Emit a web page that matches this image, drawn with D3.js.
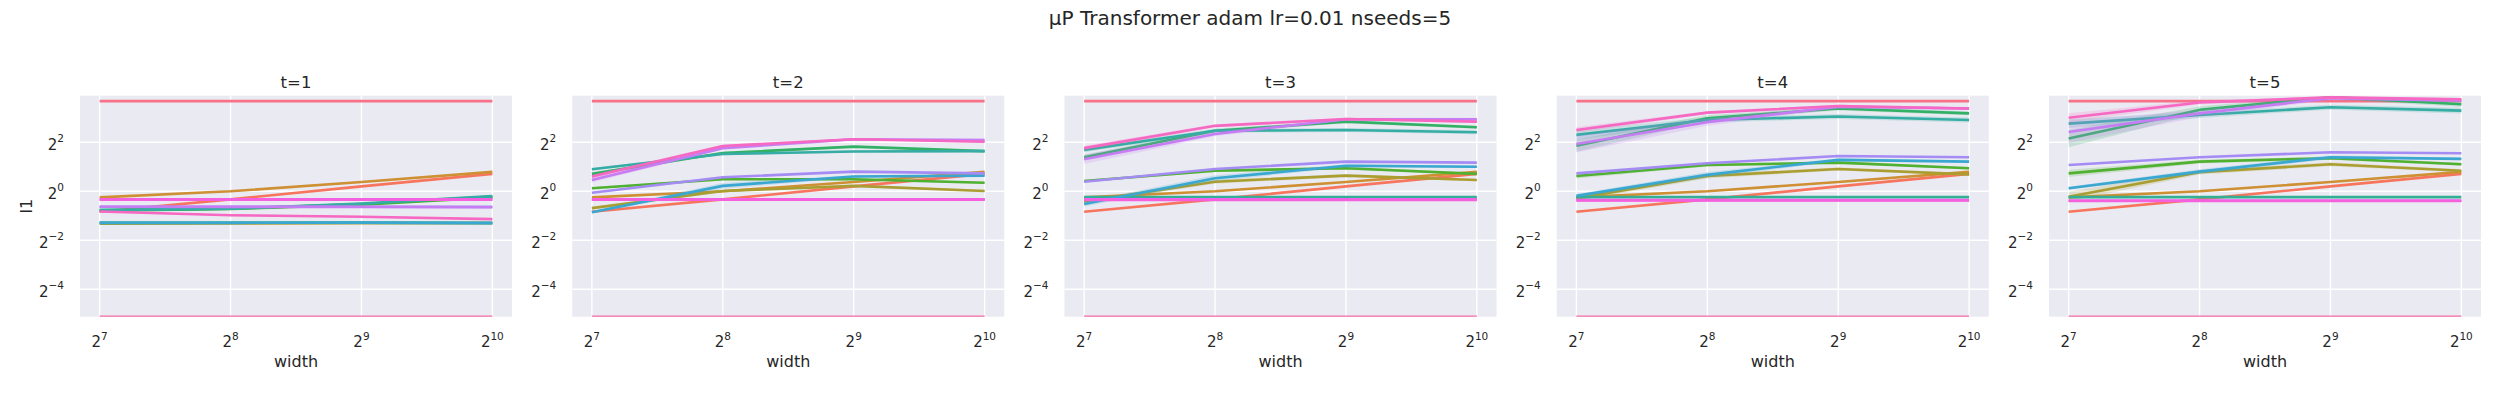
<!DOCTYPE html>
<html><head><meta charset="utf-8">
<script src="https://cdn.jsdelivr.net/npm/d3@7"></script>
<style>
body{margin:0;background:#fff}
text{font-family:"DejaVu Sans",sans-serif;fill:#262626}
</style>
</head><body>
<svg id="c" width="2500" height="400"></svg>
<script>
// ---------------- data ----------------
const suptitle = "μP Transformer adam lr=0.01 nseeds=5";
const panelTitles = ["t=1", "t=2", "t=3", "t=4", "t=5"];
const widths = [128, 256, 512, 1024];
const xTickValues = [128, 256, 512, 1024];
const yTickValues = [1/16, 1/4, 1, 4];
const xLabel = "width";
const yLabel = "l1";
const nPalette = 24;

// each series: 5 panels (t=1..5) x 4 widths, l1 values
const topModule = [
  [12.8, 12.8, 12.8, 12.8], [12.8, 12.8, 12.8, 12.8], [12.8, 12.8, 12.8, 12.8],
  [12.8, 12.8, 12.8, 12.8], [12.8, 12.8, 12.8, 12.8]];
const risingRed = [
  [0.559, 0.795, 1.149, 1.636], [0.559, 0.795, 1.149, 1.636], [0.559, 0.795, 1.149, 1.636],
  [0.559, 0.795, 1.149, 1.636], [0.559, 0.795, 1.149, 1.636]];
const orangeModule = [
  [0.841, 1.0, 1.301, 1.729], [0.841, 1.0, 1.301, 1.729], [0.841, 1.0, 1.301, 1.729],
  [0.841, 1.0, 1.301, 1.729], [0.841, 1.0, 1.301, 1.729]];
const oliveModule = [
  [0.398, 0.401, 0.406, 0.406], [0.620, 1.007, 1.165, 1.007], [0.747, 1.310, 1.558, 1.376],
  [0.818, 1.537, 1.879, 1.613], [0.858, 1.717, 2.144, 1.790]];
const midGreen = [
  [0.578, 0.607, 0.683, 0.841], [1.087, 1.404, 1.404, 1.274], [1.338, 1.790, 1.919, 1.636],
  [1.537, 2.099, 2.250, 1.919], [1.659, 2.313, 2.549, 2.144]];
const upperGreen = [
  [0.586, 0.611, 0.697, 0.858], [1.636, 2.948, 3.531, 3.116], [2.621, 5.541, 7.160, 6.105],
  [3.630, 7.890, 10.41, 9.063], [4.438, 9.987, 14.32, 11.71]];
const flatTeal = [
  [0.412, 0.412, 0.412, 0.409], [0.795, 0.795, 0.795, 0.795], [0.847, 0.847, 0.847, 0.847],
  [0.847, 0.847, 0.847, 0.847], [0.847, 0.847, 0.847, 0.847]];
const upperTeal = [
  [0.586, 0.611, 0.707, 0.871], [1.866, 2.868, 3.073, 3.116], [3.227, 5.541, 5.657, 5.315],
  [4.925, 7.516, 8.282, 7.516], [6.774, 8.634, 10.78, 9.781]];
const blueModule = [
  [0.409, 0.409, 0.412, 0.406], [0.551, 1.165, 1.516, 1.558], [0.697, 1.444, 2.056, 2.0],
  [0.877, 1.591, 2.428, 2.313], [1.087, 1.741, 2.621, 2.497]];
const midPurple = [
  [0.646, 0.646, 0.646, 0.642], [0.959, 1.484, 1.741, 1.659], [1.310, 1.879, 2.313, 2.250],
  [1.659, 2.204, 2.713, 2.621], [2.099, 2.621, 3.010, 2.928]];
const upperPurple = [
  [0.646, 0.642, 0.642, 0.637], [1.376, 3.387, 4.347, 4.257], [2.479, 5.063, 7.674, 7.674],
  [3.811, 7.061, 10.93, 10.41], [5.352, 9.063, 13.93, 13.0]];
const flatMagenta = [
  [0.795, 0.795, 0.795, 0.795], [0.795, 0.795, 0.795, 0.795], [0.795, 0.795, 0.795, 0.795],
  [0.779, 0.779, 0.779, 0.779], [0.768, 0.768, 0.768, 0.768]];
const flatMagenta2 = [
  [0.79, 0.79, 0.79, 0.79], [0.79, 0.79, 0.79, 0.79], [0.78, 0.78, 0.78, 0.78],
  [0.77, 0.77, 0.77, 0.77], [0.76, 0.76, 0.76, 0.76]];
const upperPink = [
  [0.563, 0.507, 0.486, 0.454], [1.516, 3.605, 4.347, 4.056], [3.387, 6.364, 7.727, 7.160],
  [5.657, 9.254, 11.16, 10.41], [8.0, 12.29, 14.22, 13.45]];
const bottomModule = [
  [0, 0, 0, 0], [0, 0, 0, 0], [0, 0, 0, 0], [0, 0, 0, 0], [0, 0, 0, 0]];

// confidence band half-widths (in log2 units)
const upperGreenBand = [
  [0.03, 0.03, 0.03, 0.03], [0.06, 0.05, 0.05, 0.04], [0.10, 0.08, 0.06, 0.06],
  [0.25, 0.12, 0.08, 0.08], [0.35, 0.15, 0.10, 0.10]];
const upperTealBand = [
  [0.03, 0.03, 0.03, 0.03], [0.05, 0.05, 0.04, 0.04], [0.10, 0.08, 0.08, 0.08],
  [0.20, 0.10, 0.10, 0.10], [0.18, 0.12, 0.10, 0.12]];
const upperPurpleBand = [
  [0.03, 0.03, 0.03, 0.03], [0.10, 0.06, 0.05, 0.05], [0.20, 0.10, 0.06, 0.06],
  [0.35, 0.15, 0.08, 0.06], [0.45, 0.15, 0.08, 0.06]];
const upperPinkBand = [
  [0.03, 0.03, 0.03, 0.03], [0.08, 0.05, 0.04, 0.04], [0.10, 0.06, 0.05, 0.05],
  [0.12, 0.06, 0.05, 0.05], [0.18, 0.08, 0.05, 0.05]];
const midGreenBand = [
  [0.03, 0.03, 0.03, 0.03], [0.04, 0.04, 0.04, 0.04], [0.05, 0.05, 0.05, 0.05],
  [0.10, 0.06, 0.05, 0.05], [0.15, 0.08, 0.06, 0.06]];
const blueBand = [
  [0.03, 0.03, 0.03, 0.03], [0.05, 0.12, 0.05, 0.04], [0.10, 0.12, 0.06, 0.05],
  [0.08, 0.12, 0.06, 0.05], [0.06, 0.10, 0.08, 0.05]];
const oliveBand = [
  [0.03, 0.03, 0.03, 0.03], [0.05, 0.05, 0.05, 0.04], [0.08, 0.08, 0.06, 0.05],
  [0.10, 0.10, 0.06, 0.06], [0.20, 0.10, 0.08, 0.06]];

// series table: values, palette index (husl palette of nPalette colours), optional band
const series = [
  {values: topModule, color: 0},
  {values: risingRed, color: 1},
  {values: orangeModule, color: 3},
  {values: oliveModule, color: 5, band: oliveBand},
  {values: midGreen, color: 8, band: midGreenBand},
  {values: upperGreen, color: 9, band: upperGreenBand},
  {values: flatTeal, color: 11},
  {values: upperTeal, color: 12, band: upperTealBand},
  {values: blueModule, color: 15, band: blueBand},
  {values: midPurple, color: 18},
  {values: upperPurple, color: 19, band: upperPurpleBand},
  {values: flatMagenta, color: 20},
  {values: flatMagenta2, color: 21},
  {values: upperPink, color: 22, band: upperPinkBand},
  {values: bottomModule, color: 23}
];

// ---------------- husl palette (seaborn style) ----------------
function huslToHex(H, S, L) {
  const m = [[3.2406, -1.5372, -0.4986], [-0.9689, 1.8758, 0.0415], [0.0557, -0.2040, 1.0570]];
  const refU = 0.19784, refV = 0.46834, labE = 0.008856, labK = 903.3;
  const hrad = H / 180 * Math.PI, sinH = Math.sin(hrad), cosH = Math.cos(hrad);
  const sub1 = Math.pow(L + 16, 3) / 1560896;
  const sub2 = sub1 > labE ? sub1 : L / labK;
  let mx = Infinity;
  for (const [m1, m2, m3] of m) {
    const top = (0.99915 * m1 + 1.05122 * m2 + 1.14460 * m3) * sub2;
    const rb = 0.86330 * m3 - 0.17266 * m2;
    const lb = 0.12949 * m3 - 0.38848 * m1;
    const bottom = (rb * sinH + lb * cosH) * sub2;
    for (const t of [0, 1]) {
      const C = L * (top - 1.05122 * t) / (bottom + 0.17266 * sinH * t);
      if (C > 0 && C < mx) mx = C;
    }
  }
  const C = mx / 100 * S;
  const U = Math.cos(hrad) * C, V = Math.sin(hrad) * C;
  const t = (L + 16) / 116;
  const Y = Math.pow(t, 3) > labE ? Math.pow(t, 3) : (116 * t - 16) / labK;
  const vU = U / (13 * L) + refU, vV = V / (13 * L) + refV;
  const X = -(9 * Y * vU) / ((vU - 4) * vV - vU * vV);
  const Z = (9 * Y - 15 * vV * Y - vV * X) / (3 * vV);
  const rgb = m.map(r => r[0] * X + r[1] * Y + r[2] * Z)
    .map(c => c <= 0.0031308 ? 12.92 * c : 1.055 * Math.pow(c, 1 / 2.4) - 0.055)
    .map(c => Math.max(0, Math.min(1, c)) * 255);
  return d3.rgb(rgb[0], rgb[1], rgb[2]).formatHex();
}
const palette = d3.range(nPalette).map(i => huslToHex(((i / nPalette) + 0.01) % 1 * 359, 89.1, 64.35));

// ---------------- layout ----------------
const svg = d3.select("#c");
const panelLeft0 = 80, panelStep = 492.25, panelW = 432;
const plotTop = 95.7, plotBottom = 316.7;

const x = d3.scaleLog().base(2).domain([Math.pow(2, 6.85), Math.pow(2, 10.15)]).range([0, panelW]);
const y = d3.scaleLog().base(2).domain([Math.pow(2, -5.12), Math.pow(2, 3.90)])
  .range([plotBottom, plotTop]).clamp(true);
const log2 = v => Math.log2(v);

svg.append("defs").append("clipPath").attr("id", "clip")
  .append("rect").attr("x", 0).attr("y", plotTop).attr("width", panelW).attr("height", plotBottom - plotTop);

svg.append("text").attr("x", 1250).attr("y", 25).attr("text-anchor", "middle")
  .style("font-size", "20px").text(suptitle);

panelTitles.forEach((pt, p) => {
  const g = svg.append("g").attr("transform", `translate(${panelLeft0 + p * panelStep},0)`);
  g.append("rect").attr("x", 0).attr("y", plotTop).attr("width", panelW)
    .attr("height", plotBottom - plotTop).attr("fill", "#eaeaf2");
  // grid
  g.selectAll(".gx").data(xTickValues).join("line")
    .attr("x1", d => x(d)).attr("x2", d => x(d)).attr("y1", plotTop).attr("y2", plotBottom)
    .attr("stroke", "#fff").attr("stroke-width", 1.4);
  g.selectAll(".gy").data(yTickValues).join("line")
    .attr("x1", 0).attr("x2", panelW).attr("y1", d => y(d)).attr("y2", d => y(d))
    .attr("stroke", "#fff").attr("stroke-width", 1.4);

  // tick labels
  const xt = g.selectAll(".xt").data(xTickValues).join("text")
    .attr("x", d => x(d)).attr("y", 347).attr("text-anchor", "middle").style("font-size", "15px");
  xt.append("tspan").text("2");
  xt.append("tspan").attr("dy", -7.5).style("font-size", "10.5px").text(d => String(Math.round(log2(d))));
  const yt = g.selectAll(".yt").data(yTickValues).join("text")
    .attr("x", -16).attr("y", d => y(d) + 7.5).attr("text-anchor", "end").style("font-size", "15px");
  yt.append("tspan").text("2");
  yt.append("tspan").attr("dy", -7.5).style("font-size", "10.5px")
    .text(d => String(Math.round(log2(d))).replace("-", "\u2212"));

  g.append("text").attr("x", panelW / 2).attr("y", 87.5).attr("text-anchor", "middle")
    .style("font-size", "16.5px").text(pt);
  g.append("text").attr("x", panelW / 2).attr("y", 367).attr("text-anchor", "middle")
    .style("font-size", "16px").text(xLabel);
  if (p === 0) {
    g.append("text").attr("transform", `translate(${-48},${(plotTop + plotBottom) / 2}) rotate(-90)`)
      .attr("text-anchor", "middle").style("font-size", "16px").text(yLabel);
  }

  // data
  const plot = g.append("g").attr("clip-path", "url(#clip)");
  const line = d3.line().x(d => x(d.w)).y(d => y(d.v));
  const area = d3.area().x(d => x(d.w)).y0(d => y(d.lo)).y1(d => y(d.hi));
  series.forEach(s => {
    const col = palette[s.color];
    const pts = widths.map((w, i) => ({w, v: s.values[p][i]}));
    if (s.band) {
      const bp = widths.map((w, i) => {
        const v = s.values[p][i], h = s.band[p][i];
        return {w, lo: Math.pow(2, log2(v) - h), hi: Math.pow(2, log2(v) + h)};
      });
      plot.append("path").datum(bp).attr("d", area).attr("fill", col).attr("fill-opacity", 0.2);
    }
    plot.append("path").datum(pts).attr("d", line).attr("fill", "none")
      .attr("stroke", col).attr("stroke-width", 2.6).attr("stroke-linejoin", "round");
  });
});
</script>
</body></html>
